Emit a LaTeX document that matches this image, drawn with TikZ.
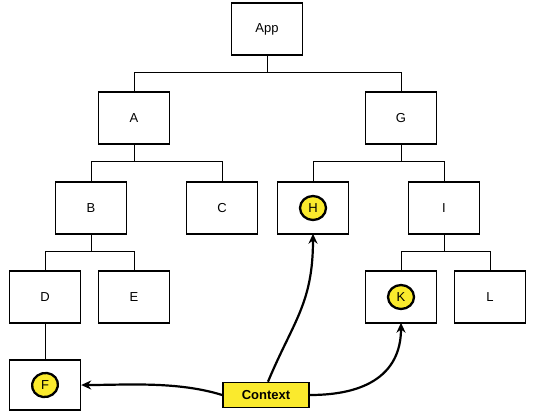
\documentclass[tikz,border=0pt]{standalone}
\usepackage{fontspec}
\setmainfont{Liberation Sans}
\usetikzlibrary{arrows.meta}
\usetikzlibrary{shapes.geometric}

\definecolor{ctxyellow}{RGB}{250,234,45}

\tikzset{
  box/.style={draw=black, fill=white, line width=1.4pt, minimum width=71pt, minimum height=52pt,
    inner sep=0pt, font={\fontsize{13}{13}\selectfont}},
  hilite/.style={draw=black, fill=ctxyellow, line width=2.3pt, ellipse, minimum width=26pt,
    minimum height=24pt, inner sep=0pt, font={\fontsize{13}{13}\selectfont}},
  link/.style={draw=black, line width=1pt},
  ctxarrow/.style={draw=black, line width=2.2pt, -{Stealth[length=10pt,width=9pt]}}
}

\begin{document}
\begin{tikzpicture}[x=1pt, y=-1pt]

\useasboundingbox (0,0) rectangle (534,416);

% the tree
\node [box] (app) at (267,29) {App};

\node [box] (a) at (134,118) {A};
\node [box] (g) at (401,118) {G};

\node [box] (b) at (91,208) {B};
\node [box] (c) at (222,208) {C};
\node [box] (h) at (313,208) {};
\node [box] (i) at (444,208) {I};

\node [box] (d) at (45,297) {D};
\node [box] (e) at (134,297) {E};
\node [box] (k) at (401,297) {};
\node [box] (l) at (490,297) {L};

\node [box, minimum height=50pt] (f) at (45,385) {};

% highlighted consumers
\node [hilite] (hmark) at (h) {H};
\node [hilite] (kmark) at (k) {K};
\node [hilite, rotate=15] (fmark) at (f) {\rotatebox{-15}{F}};

\node [draw=black, fill=ctxyellow, line width=1.6pt, minimum width=86pt, minimum height=25pt,
  inner sep=0pt, font={\fontsize{13}{13}\selectfont\bfseries}] (ctx) at (266,395) {Context};

% links
\draw [link] (app.south) -- ++(0,17) -| (a.north);
\draw [link] (app.south) -- ++(0,17) -| (g.north);
\draw [link] (a.south) -- ++(0,17) -| (b.north);
\draw [link] (a.south) -- ++(0,17) -| (c.north);
\draw [link] (g.south) -- ++(0,17) -| (h.north);
\draw [link] (g.south) -- ++(0,17) -| (i.north);
\draw [link] (b.south) -- ++(0,17) -| (d.north);
\draw [link] (b.south) -- ++(0,17) -| (e.north);
\draw [link] (i.south) -- ++(0,17) -| (k.north);
\draw [link] (i.south) -- ++(0,17) -| (l.north);
\draw [link] (d.south) -- (f.north);

% context arrows
\draw [ctxarrow] ([xshift=2pt]ctx.north) .. controls +(25,-60) and +(0,70) .. ([yshift=1pt]h.south);
\draw [ctxarrow] (ctx.west) .. controls +(-45,-14) and +(45,0) .. (f.east);
\draw [ctxarrow] (ctx.east) .. controls +(65,0) and +(0,45) .. ([yshift=1pt]k.south);

\end{tikzpicture}
\end{document}
